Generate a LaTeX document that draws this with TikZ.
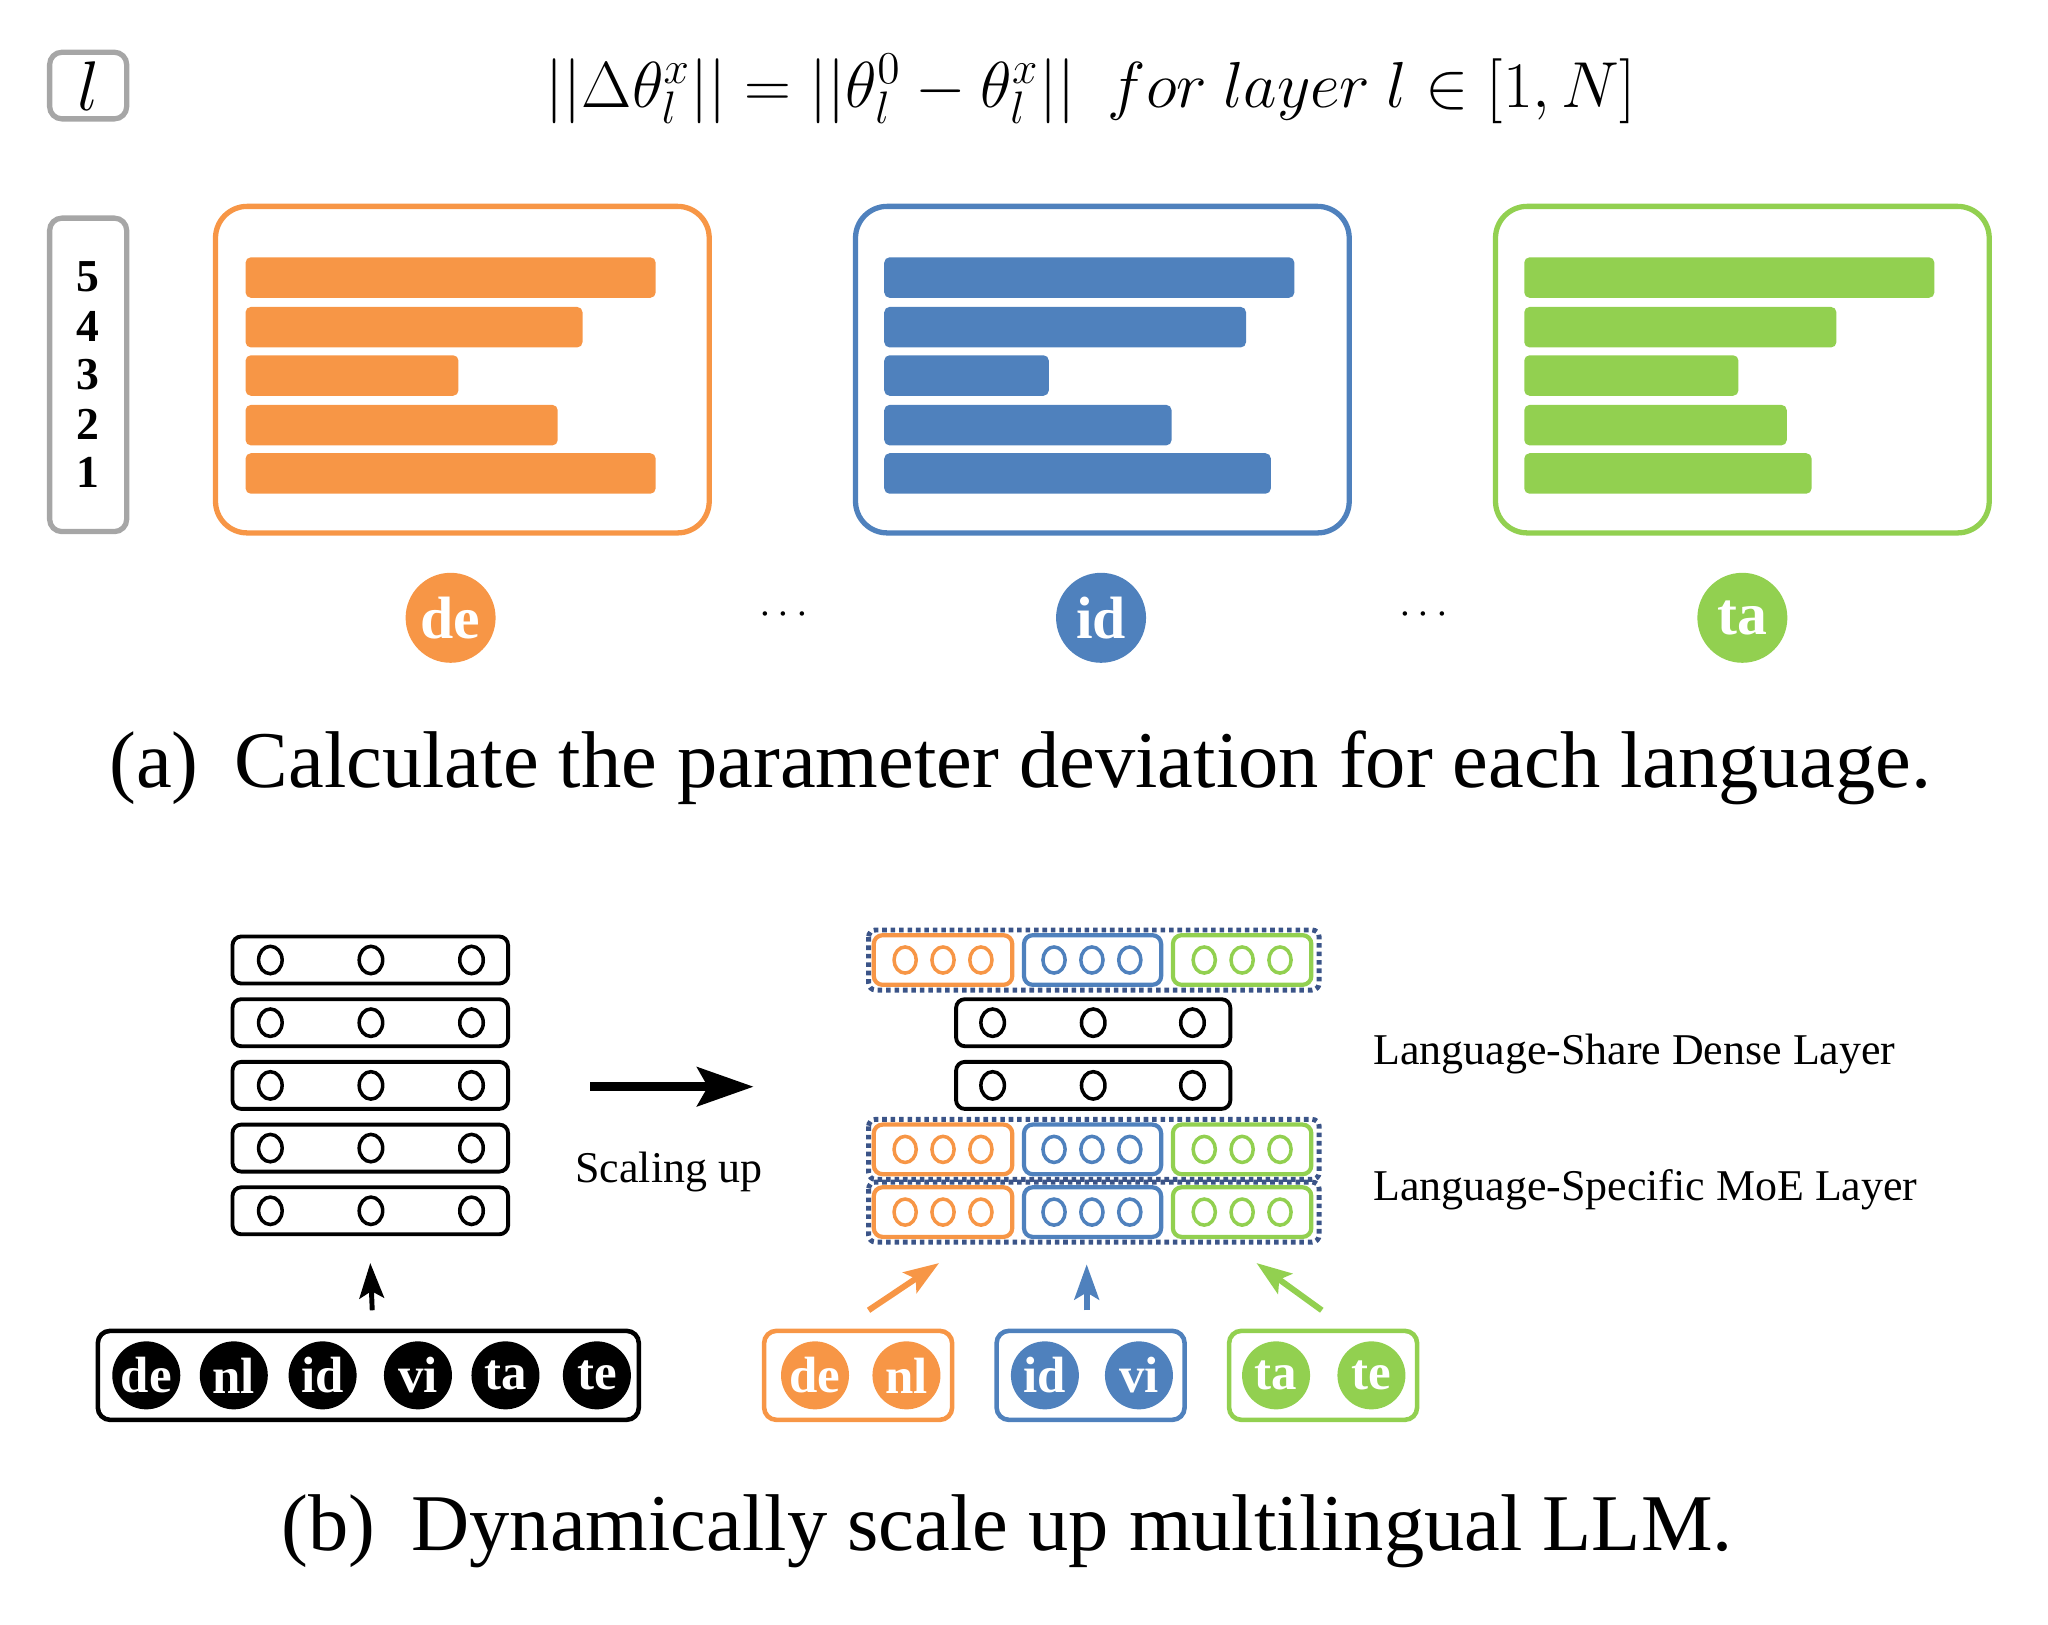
\documentclass[tikz,border=0pt]{standalone}
\usepackage{fix-cm}
\usepackage{fontspec}
\setmainfont{Liberation Serif}
\usetikzlibrary{arrows.meta,calc,positioning}

\definecolor{deorange}{HTML}{F79646}
\definecolor{idblue}{HTML}{4F81BD}
\definecolor{tagreen}{HTML}{92D050}
\definecolor{framegray}{HTML}{A6A6A6}
\definecolor{dotnavy}{HTML}{3B5488}

\tikzset{
  panel/.style={draw, line width=1.5pt, rounded corners=9pt},
  bar/.style={rounded corners=1.5pt},
  lang/.style={circle, fill, inner sep=0pt, minimum size=0.9cm, text=white,
    font=\fontsize{17}{17}\selectfont\bfseries},
  tok/.style={circle, fill, inner sep=0pt, minimum size=0.68cm, text=white,
    font=\fontsize{14.5}{14.5}\selectfont\bfseries},
  layerbox/.style={draw, line width=1.1pt, rounded corners=2.5pt},
  expbox/.style={draw, line width=1.2pt, rounded corners=2.5pt},
  dotbox/.style={draw=dotnavy, line width=1.4pt, dash pattern=on 1.3pt off 1.1pt, rounded corners=2pt},
  inbox/.style={draw, line width=1.3pt, rounded corners=3.5pt},
  uarr/.style={line width=1.4pt, -{Stealth[length=10pt, width=7pt, inset=2pt]}},
  lbl/.style={font=\fontsize{12.5}{14}\selectfont},
  captxt/.style={font=\fontsize{22.9}{26}\selectfont}
}

\begin{document}
\begin{tikzpicture}[x=0.01306cm, y=-0.01306cm]
\useasboundingbox (0,0) rectangle (1568,1244);

% (a) formula row
\draw[framegray, line width=1.5pt, rounded corners=3.5pt] (38,40) rectangle (97,91);
\node (lsym) at (67.5,66) {\fontsize{20}{20}\selectfont $l$};
\node (eq) at (835,68) {\fontsize{18.5}{22}\selectfont $||\Delta\theta_l^x|| = ||\theta_l^0 - \theta_l^x||\ \ for\ layer\ l \in [1,N]$};

% layer index box
\draw[framegray, line width=1.5pt, rounded corners=3.5pt] (38,167) rectangle (97,407);
\foreach \k/\yy in {5/212,4/250,3/287,2/325,1/362}
  \node[font=\fontsize{13}{13}\selectfont\bfseries] (n\k) at (67.5,\yy) {\k};

% panels with layer deviations
\draw[panel, deorange] (165,158) rectangle (543,408);
\foreach \ya/\xe in {197/502,235/446,272/351,310/427,347/502}
  \fill[bar, deorange] (188,\ya) rectangle (\xe,\ya+31);
\draw[panel, idblue] (655,158) rectangle (1033,408);
\foreach \ya/\xe in {197/991,235/954,272/803,310/897,347/973}
  \fill[bar, idblue] (677,\ya) rectangle (\xe,\ya+31);
\draw[panel, tagreen] (1145,158) rectangle (1523,408);
\foreach \ya/\xe in {197/1481,235/1406,272/1331,310/1368,347/1387}
  \fill[bar, tagreen] (1167,\ya) rectangle (\xe,\ya+31);

\node[lang, fill=deorange] (de) at (345,473) {de};
\node[lang, fill=idblue] (id) at (843,473) {id};
\node[lang, fill=tagreen] (ta) at (1334,473) {ta};
\node (dotsA) at (600,471) {\fontsize{12}{12}\selectfont$\cdots$};
\node (dotsB) at (1090,471) {\fontsize{12}{12}\selectfont$\cdots$};

\node[captxt] (capa) at (781,588) {(a)\hspace{0.45em}Calculate the parameter deviation for each language.};

% (b) dense model
\foreach \i/\yy in {5/717,4/765,3/813,2/861,1/909}{
  \draw[layerbox] (178,\yy) rectangle (389,\yy+36);
  \coordinate (l\i) at (283.5,\yy+18);
  \foreach \xx in {207,284,361}
    \draw[line width=1pt] (\xx,\yy+18) ellipse [x radius=9, y radius=10.5];
}
\node[inbox, minimum width=5.41cm, minimum height=0.89cm] (inp) at (282,1053) {};
\foreach \t/\xx in {de/112,nl/179,id/247,vi/320,ta/387,te/457}
  \node[tok, fill=black] (b\t) at (\xx,1053) {\t};
\coordinate (l1s) at (283.5,945);
\draw[uarr] ($(inp.north)+(3,-14)$) -- ($(l1s)+(0,22)$);

% scaling arrow
\coordinate (scA) at (452,832);
\coordinate (scB) at (577,832);
\draw[line width=2.6pt, -{Stealth[length=16pt, width=11pt, inset=3pt]}] (scA) -- (scB);
\node[lbl] (scl) at (512,897) {Scaling up};

% (b) scaled model
\foreach \yy in {735,880,928}{
  \draw[expbox, deorange] (669,\yy-19) rectangle (775,\yy+19);
  \draw[expbox, idblue] (784,\yy-19) rectangle (889,\yy+19);
  \draw[expbox, tagreen] (898,\yy-19) rectangle (1004,\yy+19);
  \foreach \xx in {693,722,751}
    \draw[deorange, line width=1pt] (\xx,\yy) ellipse [x radius=8.5, y radius=10];
  \foreach \xx in {807,836,865}
    \draw[idblue, line width=1pt] (\xx,\yy) ellipse [x radius=8.5, y radius=10];
  \foreach \xx in {922,951,980}
    \draw[tagreen, line width=1pt] (\xx,\yy) ellipse [x radius=8.5, y radius=10];
  \draw[dotbox] (665,\yy-23) rectangle (1010,\yy+23);
}
\foreach \yy in {765,813}{
  \draw[layerbox] (732,\yy) rectangle (942,\yy+36);
  \foreach \xx in {760,837,913}
    \draw[line width=1pt] (\xx,\yy+18) ellipse [x radius=9, y radius=10.5];
}
\node[lbl, anchor=west] (share) at (1042,807) {Language-Share Dense Layer};
\node[lbl, anchor=west] (spec) at (1042,911) {Language-Specific MoE Layer};

% grouped inputs
\node[inbox, draw=deorange, minimum width=1.88cm, minimum height=0.89cm] (deIn) at (657,1053) {};
\node[tok, fill=deorange] (gde) at (624,1053) {de};
\node[tok, fill=deorange] (gnl) at (694,1053) {nl};
\node[inbox, draw=idblue, minimum width=1.88cm, minimum height=0.89cm] (idIn) at (835,1053) {};
\node[tok, fill=idblue] (gid) at (800,1053) {id};
\node[tok, fill=idblue] (gvi) at (872,1053) {vi};
\node[inbox, draw=tagreen, minimum width=1.88cm, minimum height=0.89cm] (taIn) at (1013,1053) {};
\node[tok, fill=tagreen] (gta) at (977,1053) {ta};
\node[tok, fill=tagreen] (gte) at (1050,1053) {te};

\coordinate (deTip) at (719,967);
\coordinate (idTip) at (832,968);
\coordinate (taTip) at (962,967);
\draw[uarr, deorange, line width=1.7pt] ($(deIn.north)+(8,-14)$) -- (deTip);
\draw[uarr, idblue, line width=1.7pt] ($(idIn.north)+(-3,-14)$) -- (idTip);
\draw[uarr, tagreen, line width=1.7pt] ($(taIn.north)+(-1,-14)$) -- (taTip);

\node[captxt] (capb) at (771,1172) {(b)\hspace{0.45em}Dynamically scale up multilingual LLM.};
\end{tikzpicture}
\end{document}
